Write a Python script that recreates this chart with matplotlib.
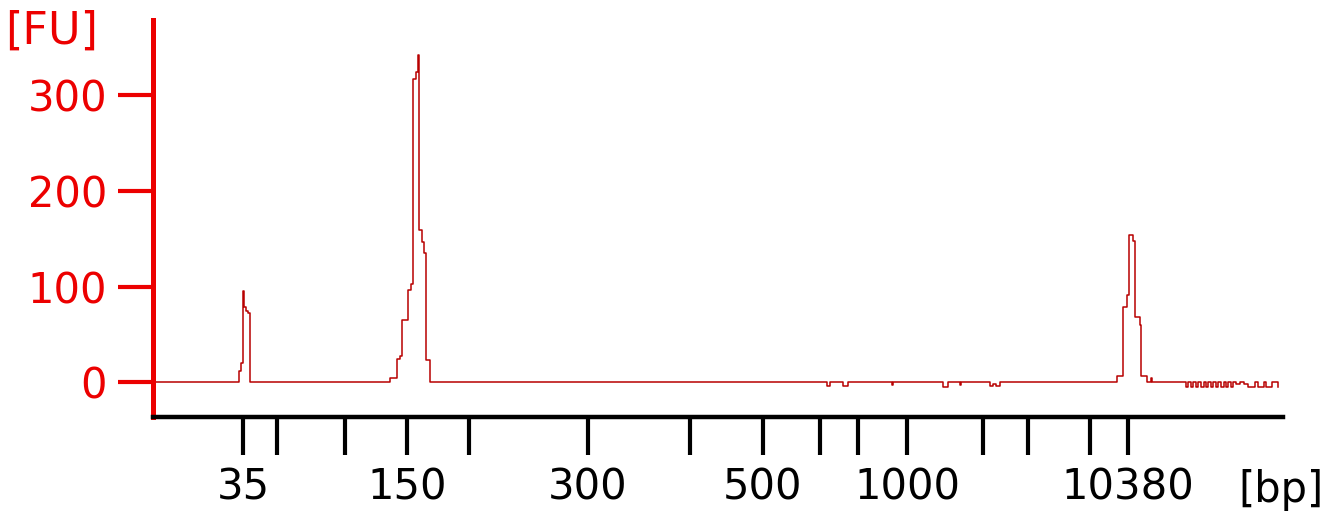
import matplotlib
matplotlib.use("Agg")
import matplotlib.pyplot as plt

# Electropherogram trace (position along the run, fluorescence in FU)
position = [153, 239, 241, 243, 244, 246, 248, 250,
            390, 397, 400, 402, 408, 411, 413, 416, 418, 419, 422, 424, 426, 430,
            827, 830, 843, 848, 892, 893, 943, 948, 960, 961, 990, 993, 996, 1000,
            1117, 1123, 1127, 1129, 1133, 1135, 1140, 1141, 1147, 1151, 1152,
            1186, 1188, 1191, 1193, 1196, 1198, 1201, 1204, 1206, 1208, 1211, 1213,
            1216, 1218, 1221, 1224, 1226, 1228, 1231, 1233, 1236, 1240, 1244, 1248,
            1252, 1255, 1258, 1262, 1264, 1266, 1269, 1272, 1278]
fu = [0, 12, 20, 95, 79, 75, 72, 0,
      5, 25, 28, 65, 96, 103, 316, 324, 342, 159, 147, 135, 23, 0,
      -4, 0, -4, 0, -3, 0, -5, 0, -3, 0, -4, -2, -4, 0,
      7, 79, 91, 154, 148, 68, 60, 7, 0, 5, 0,
      -5, 0, -5, 0, -5, 0, -5, 0, -5, 0, -5, 0,
      -5, 0, -5, 0, -5, 0, -5, 0, -2, 0, -2, -5,
      -5, 0, -5, -5, 0, -5, -5, 0, -5]

# Size-standard ticks on the x axis
tick_pos = [243, 277, 345, 407, 469, 588, 690, 763, 820, 858, 907, 983, 1028, 1090, 1128]
tick_labels = ["35", "", "", "150", "", "300", "", "500", "", "", "1000", "", "", "", "10380"]
y_ticks = [0, 100, 200, 300]

red = "#EC0000"
W, H = 1328, 523
fig = plt.figure(figsize=(W / 100, H / 100), dpi=100)
ax = fig.add_axes([153 / W, 1 - 417 / H, (1283 - 153) / W, (417 - 20) / H])

ax.plot(position, fu, drawstyle="steps-post", color="#B80000", lw=1.1)

ax.set_xlim(153, 1283)
ax.set_ylim(-36, 378)

for s in ["top", "right"]:
    ax.spines[s].set_visible(False)
ax.spines["left"].set_color(red)
ax.spines["left"].set_linewidth(3.6)
ax.spines["bottom"].set_color("black")
ax.spines["bottom"].set_linewidth(3.2)
ax.spines["bottom"].set_zorder(5)

ax.set_yticks(y_ticks)
ax.set_yticklabels([str(v) for v in y_ticks])
ax.tick_params(axis="y", colors=red, length=25, width=3, pad=8, labelsize=30)

ax.set_xticks(tick_pos)
ax.set_xticklabels(tick_labels)
ax.tick_params(axis="x", colors="black", length=27, width=3, pad=9, labelsize=30)

fig.text(5 / W, 1 - 10 / H, "[FU]", color=red, fontsize=32, ha="left", va="top")
fig.text(1238 / W, 1 - 490 / H, "[bp]", color="black", fontsize=30, ha="left", va="center")

fig.savefig("out.png", dpi=100)
